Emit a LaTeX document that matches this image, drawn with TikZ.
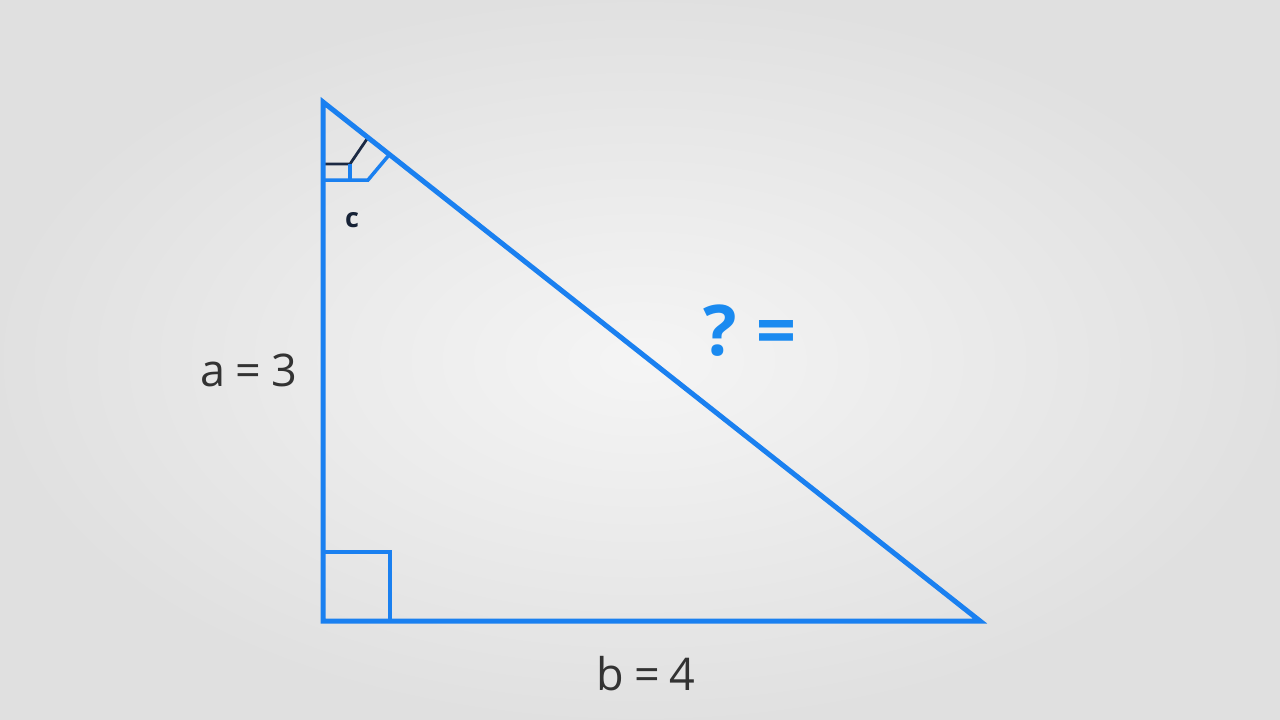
\documentclass[tikz,border=0pt]{standalone}
\usepackage{fontspec}
\setmainfont{Open Sans}
\definecolor{triblue}{HTML}{1A80F0}
\definecolor{qblue}{HTML}{1A8AF0}
\definecolor{navy}{HTML}{1C2A44}
\definecolor{txt}{HTML}{333333}
\tikzset{
  side/.style={draw=triblue, line width=5pt, line join=miter},
  bluemark/.style={draw=triblue, line width=3.5pt},
  darkmark/.style={draw=navy, line width=2.8pt},
  lbl/.style={text=txt, font=\fontsize{45}{48}\selectfont, inner sep=0pt},
}
\begin{document}
\begin{tikzpicture}[x=1pt,y=-1pt]
\useasboundingbox (0,0) rectangle (1280,720);
\shade[inner color=white!96!black, outer color=white!88!black] (0,0) rectangle (1280,720);
% vertices
\coordinate (A) at (323,102);
\coordinate (C) at (323,621);
\coordinate (B) at (980,621);
% right angle square
\coordinate (s1) at (323,552);
\coordinate (s2) at (390,552);
\coordinate (s3) at (390,621);
\draw[bluemark, line width=4.5pt] (s1) -- (s2) -- (s3);
% top markings
\coordinate (d1) at (325,164);
\coordinate (d2) at (350,164);
\coordinate (d3) at (367,139);
\draw[darkmark] (d1) -- (d2) -- (d3);
\coordinate (m1) at (325,180);
\coordinate (m2) at (368,180);
\coordinate (m3) at (389,155);
\coordinate (m4) at (350,180);
\draw[bluemark] (m1) -- (m2) -- (m3);
\draw[bluemark] (d2) -- (m4);
% triangle
\draw[side] (A) -- (C) -- (B) -- cycle;
% labels
\node[text=navy!80!black, font=\fontsize{27}{28}\selectfont\bfseries] (c) at (352,220) {c};
\node[lbl] (a) at (249,370) {a\hspace{10pt}=\hspace{10pt}3};
\node[lbl] (b) at (646,674) {b\hspace{10pt}=\hspace{10pt}4};
\node[text=qblue, font=\fontsize{70}{72}\selectfont\bfseries, inner sep=0pt] (q) at (750,331) {?\hspace{19pt}=};
\end{tikzpicture}
\end{document}
